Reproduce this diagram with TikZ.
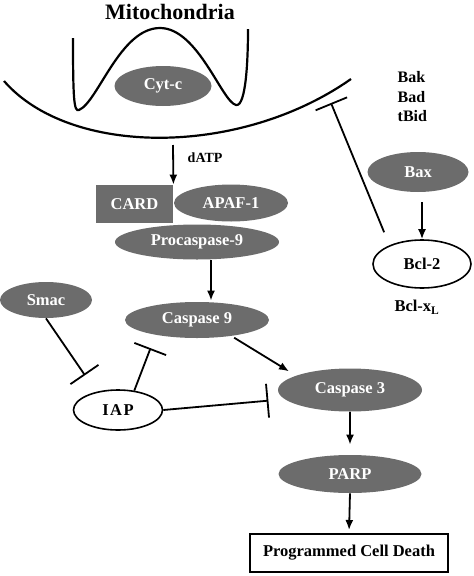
\documentclass[tikz,border=0pt]{standalone}
\usepackage{fontspec}
\setmainfont{Liberation Serif}
\usetikzlibrary{arrows.meta}
\usetikzlibrary{shapes.geometric}
\definecolor{protgray}{RGB}{108,108,108}
\tikzset{grayoval/.style={ellipse, fill=protgray, text=white, inner sep=0pt}}
\tikzset{whiteoval/.style={ellipse, draw, fill=white, line width=1.6pt, inner sep=0pt}}
\tikzset{activ/.style={-{Latex[length=10pt,width=8pt]}, line width=1.8pt}}
\tikzset{inhib/.style={-{Bar[width=34pt]}, line width=1.8pt}}

\begin{document}
\begin{tikzpicture}[x=1pt, y=-1pt, thick, font=\bfseries\fontsize{16.5}{19}\selectfont]
				\useasboundingbox (0,0) rectangle (474,576);
				\node (mito) at (170,12) {\fontsize{22}{24}\selectfont Mitochondria};
				\draw[line width=2.2pt] (4,81) .. controls (70,157) and (240,157) .. (351,79);
				\draw[line width=2.2pt] (73,38) .. controls (73,100) and (74,112) .. (79,110)
					.. controls (98,102) and (120,28) .. (160,28)
					.. controls (198,28) and (222,102) .. (236,105)
					.. controls (246,107) and (248,60) .. (248,29);
				%
				\node[grayoval, minimum width=97pt, minimum height=40pt] (cytc) at (163,86) {Cyt-c};
				\node[grayoval, minimum width=114pt, minimum height=37pt] (apaf) at (231,203) {APAF-1};
				\node[rectangle, fill=protgray, text=white, minimum width=77pt, minimum height=38pt, inner sep=0pt] (card) at (134.5,204) {CARD};
				\node[grayoval, minimum width=164pt, minimum height=35pt] (procasp) at (197,242) {Procaspase-9};
				\node[grayoval, minimum width=144pt, minimum height=36pt] (casp9) at (197,320) {Caspase 9};
				\node[grayoval, minimum width=92pt, minimum height=36pt] (smac) at (46,300) {Smac};
				\node[whiteoval, minimum width=89pt, minimum height=40pt] (iap) at (118,410) {I\kern1.5pt A\kern1.5pt P};
				\node[grayoval, minimum width=144pt, minimum height=43pt] (casp3) at (350,390) {Caspase 3};
				\node[grayoval, minimum width=143pt, minimum height=38pt] (parp) at (350,474) {PARP};
				\node[rectangle, draw, line width=2pt, minimum width=198pt, minimum height=38pt] (pcd) at (349,553) {Programmed Cell Death};
				\node[grayoval, minimum width=101pt, minimum height=40pt] (bax) at (418,172) {Bax};
				\node[whiteoval, minimum width=98pt, minimum height=48pt] (bcl2) at (422,264) {Bcl-2};
				\node (bclxl) at (417,307) {Bcl-x\textsubscript{L}};
				\node[anchor=west, align=left, font=\bfseries\fontsize{16}{19.5}\selectfont] (proapo) at (394,97) {Bak\\Bad\\tBid};
				\node[anchor=west, font=\bfseries\fontsize{14}{16}\selectfont] (datp) at (184,158) {dATP};
				%
				\coordinate (datptop) at (173,145);
				\coordinate (mtarget) at (331,103);
				\draw[activ] (datptop) -- (card.north east);
				\draw[activ, shorten >=1pt] ([xshift=14pt]procasp.south) -- ([xshift=14pt]casp9.north);
				\draw[activ, shorten <=3pt, shorten >=8pt] (casp9.-25) -- (casp3.165);
				\draw[activ, shorten >=10pt] (casp3.south) -- (parp.north);
				\draw[activ, shorten >=3pt] (parp.south) -- (pcd.north);
				\draw[activ, shorten <=10pt] (bcl2.north |- bax.south) -- (bcl2.north);
				%
				\draw[inhib, shorten >=20pt] (smac.south) -- (iap.140);
				\draw[inhib, shorten >=14pt] (iap.50) -- (casp9.-160);
				\draw[inhib, shorten >=16pt] (iap.east) -- (casp3.188);
				\draw[inhib, shorten <=14pt] (bcl2.150) -- (mtarget);
\end{tikzpicture}
\end{document}
